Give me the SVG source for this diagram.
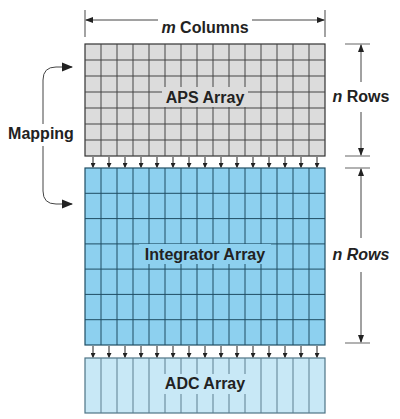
<svg xmlns="http://www.w3.org/2000/svg" width="400" height="419" viewBox="0 0 400 419">
<style>
.lbl{font-family:"Liberation Sans",Arial,sans-serif;font-weight:bold;font-size:16px;fill:#222;text-anchor:middle}
.dim{stroke:#444;stroke-width:1;fill:none}
.tick{stroke:#666;stroke-width:1.2}
.gA{stroke:#444;stroke-width:1}
.gI{stroke:#1f4d63;stroke-width:1}
.gD{stroke:#5d7f90;stroke-width:1}
.sarr{stroke:#222;stroke-width:1;marker-end:url(#sh)}
</style>
<defs>
<marker id="sh" markerWidth="5" markerHeight="5" refX="4" refY="2.5" orient="auto" markerUnits="userSpaceOnUse">
<path d="M0,0 L5,2.5 L0,5 Z" fill="#222"/>
</marker>
<marker id="ah" markerWidth="8" markerHeight="8" refX="7" refY="4" orient="auto" markerUnits="userSpaceOnUse">
<path d="M0,1 L8,4 L0,7 Z" fill="#222"/>
</marker>
<marker id="bh" markerWidth="11" markerHeight="10" refX="10" refY="5" orient="auto" markerUnits="userSpaceOnUse">
<path d="M0,0.5 L11,5 L0,9.5 Z" fill="#222"/>
</marker>
</defs>
<rect width="400" height="419" fill="#fff"/>

<g id="aps">
<rect x="85" y="44" width="240" height="112" fill="#dcdcdc" stroke="#333" stroke-width="1.2"/>
<path class="gA" d="M101,44V156M117,44V156M133,44V156M149,44V156M165,44V156M181,44V156M197,44V156M213,44V156M229,44V156M245,44V156M261,44V156M277,44V156M293,44V156M309,44V156M85,60H325M85,76H325M85,92H325M85,108H325M85,124H325M85,140H325"/>
<rect x="162" y="87" width="86" height="20" fill="#dcdcdc"/>
<text class="lbl" x="205" y="103">APS Array</text>
</g>

<g id="integrator">
<rect x="85" y="168" width="240" height="177" fill="#8dd0ef" stroke="#1f4d63" stroke-width="1.2"/>
<path class="gI" d="M101,168V345M117,168V345M133,168V345M149,168V345M165,168V345M181,168V345M197,168V345M213,168V345M229,168V345M245,168V345M261,168V345M277,168V345M293,168V345M309,168V345M85,193.3H325M85,218.6H325M85,243.9H325M85,269.1H325M85,294.4H325M85,319.7H325"/>
<rect x="139" y="244" width="132" height="20" fill="#8dd0ef"/>
<text class="lbl" x="205" y="260">Integrator Array</text>
</g>

<g id="adc">
<rect x="85" y="358" width="240" height="55" fill="#c8e8f6" stroke="#4d7385" stroke-width="1.2"/>
<path class="gD" d="M101,358V413M117,358V413M133,358V413M149,358V413M165,358V413M181,358V413M197,358V413M213,358V413M229,358V413M245,358V413M261,358V413M277,358V413M293,358V413M309,358V413"/>
<rect x="162" y="374" width="86" height="20" fill="#c8e8f6"/>
<text class="lbl" x="205" y="389">ADC Array</text>
</g>

<g id="labels">
<text class="lbl" x="205" y="33"><tspan font-style="italic">m</tspan> Columns</text>
<text class="lbl" x="361" y="102"><tspan font-style="italic">n</tspan> Rows</text>
<text class="lbl" x="361" y="260" font-style="italic">n Rows</text>
<text class="lbl" x="41" y="139">Mapping</text>
</g>

<g id="connectors">
<path class="tick" d="M85,10V37M325,10V37"/>
<path class="dim" d="M158,20H86" marker-end="url(#ah)"/>
<path class="dim" d="M252,20H324" marker-end="url(#ah)"/>
<path class="tick" d="M345,44H370M345,156H370M345,168H370M345,343H370"/>
<path class="dim" d="M361,82V45" marker-end="url(#ah)"/>
<path class="dim" d="M361,112V155" marker-end="url(#ah)"/>
<path class="dim" d="M361,238V169" marker-end="url(#ah)"/>
<path class="dim" d="M361,272V342" marker-end="url(#ah)"/>
<path class="dim" d="M43,124V80Q43,67 56,67H72" marker-end="url(#bh)" stroke-width="1.6"/>
<path class="dim" d="M43,146V191Q43,204 56,204H72" marker-end="url(#bh)" stroke-width="1.6"/>
<g id="arrows-top">
<line class="sarr" x1="93" y1="157" x2="93" y2="167"/>
<line class="sarr" x1="109" y1="157" x2="109" y2="167"/>
<line class="sarr" x1="125" y1="157" x2="125" y2="167"/>
<line class="sarr" x1="141" y1="157" x2="141" y2="167"/>
<line class="sarr" x1="157" y1="157" x2="157" y2="167"/>
<line class="sarr" x1="173" y1="157" x2="173" y2="167"/>
<line class="sarr" x1="189" y1="157" x2="189" y2="167"/>
<line class="sarr" x1="205" y1="157" x2="205" y2="167"/>
<line class="sarr" x1="221" y1="157" x2="221" y2="167"/>
<line class="sarr" x1="237" y1="157" x2="237" y2="167"/>
<line class="sarr" x1="253" y1="157" x2="253" y2="167"/>
<line class="sarr" x1="269" y1="157" x2="269" y2="167"/>
<line class="sarr" x1="285" y1="157" x2="285" y2="167"/>
<line class="sarr" x1="301" y1="157" x2="301" y2="167"/>
<line class="sarr" x1="317" y1="157" x2="317" y2="167"/>
</g>
<g id="arrows-bottom">
<line class="sarr" x1="93" y1="346" x2="93" y2="357"/>
<line class="sarr" x1="109" y1="346" x2="109" y2="357"/>
<line class="sarr" x1="125" y1="346" x2="125" y2="357"/>
<line class="sarr" x1="141" y1="346" x2="141" y2="357"/>
<line class="sarr" x1="157" y1="346" x2="157" y2="357"/>
<line class="sarr" x1="173" y1="346" x2="173" y2="357"/>
<line class="sarr" x1="189" y1="346" x2="189" y2="357"/>
<line class="sarr" x1="205" y1="346" x2="205" y2="357"/>
<line class="sarr" x1="221" y1="346" x2="221" y2="357"/>
<line class="sarr" x1="237" y1="346" x2="237" y2="357"/>
<line class="sarr" x1="253" y1="346" x2="253" y2="357"/>
<line class="sarr" x1="269" y1="346" x2="269" y2="357"/>
<line class="sarr" x1="285" y1="346" x2="285" y2="357"/>
<line class="sarr" x1="301" y1="346" x2="301" y2="357"/>
<line class="sarr" x1="317" y1="346" x2="317" y2="357"/>
</g>
</g>
</svg>
